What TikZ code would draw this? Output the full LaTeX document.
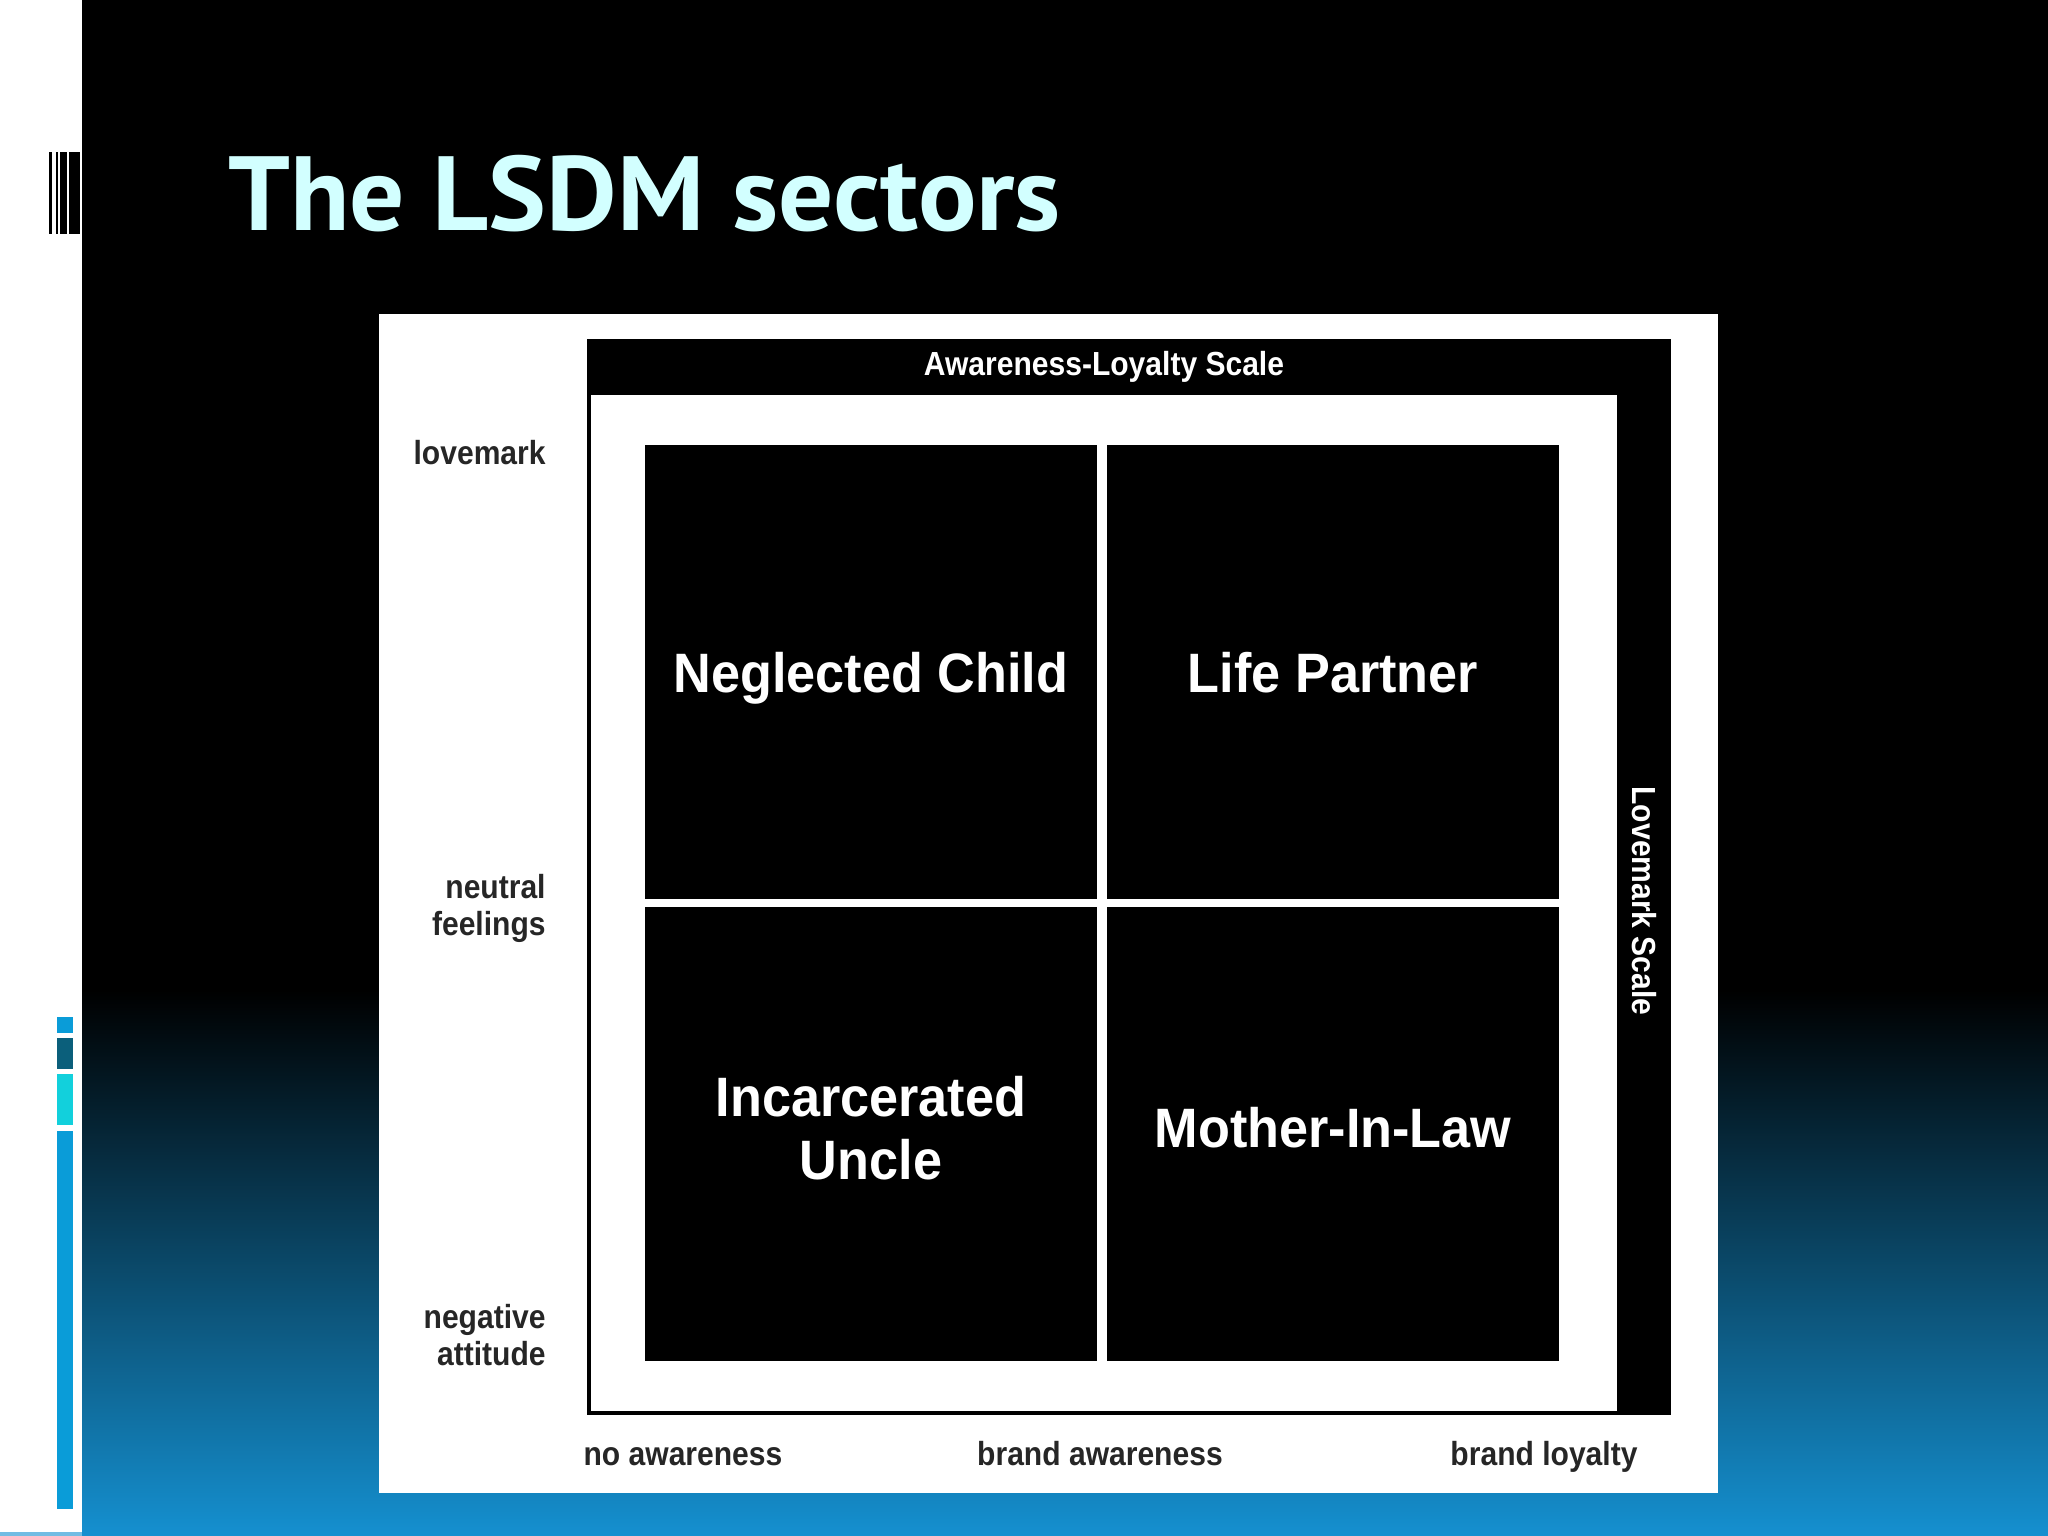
\documentclass[tikz,border=0pt]{standalone}
\usepackage{fontspec}
\setmainfont{Liberation Sans}[FakeStretch=0.9]
\newfontfamily\sectorfont{Liberation Sans}[FakeStretch=0.94]
\newfontfamily\titlefont{PT Sans}[FakeStretch=1.035]
\usetikzlibrary{positioning}
\definecolor{titlecyan}{HTML}{D2FFFF}
\definecolor{slideblue}{HTML}{1590D0}
\definecolor{barblue}{HTML}{0A9CD8}
\definecolor{barteal}{HTML}{0B5F7B}
\definecolor{barcyan}{HTML}{12D0DC}
\definecolor{labelgray}{HTML}{262626}
\begin{document}
\begin{tikzpicture}[x=1cm, y=-1cm, node distance=4.62cm, thick]
  \tikzstyle{sector} = [rectangle, fill=black, text=white, minimum width=4.52cm, minimum height=4.54cm, inner sep=0pt, align=center, font=\sectorfont\fontsize{15.8}{17.9}\selectfont\bfseries]
  \tikzstyle{axislabel} = [text=labelgray, inner sep=0pt, font=\fontsize{9.5}{10.5}\selectfont\bfseries]
  \tikzstyle{scalelabel} = [text=white, inner sep=0pt, font=\fontsize{9.5}{10.5}\selectfont\bfseries]

  \useasboundingbox (0,0) rectangle (20.48,15.36);
  % slide background and side strip
  \fill[black] (0,0) rectangle (20.48,15.36);
  \shade[top color=black, bottom color=slideblue] (0.82,9.9) rectangle (20.48,15.36);
  \fill[white] (0,0) rectangle (0.82,15.36);
  \fill[slideblue!60] (0,15.32) rectangle (0.82,15.36);
  \foreach \xa/\xb in {0.493/0.517, 0.557/0.583, 0.600/0.667, 0.693/0.800}
    \fill[black] (\xa,1.52) rectangle (\xb,2.34);
  \foreach \ya/\yb/\col in {10.17/10.33/barblue, 10.38/10.69/barteal, 10.74/11.25/barcyan, 11.31/15.09/barblue}
    \fill[\col] (0.57,\ya) rectangle (0.73,\yb);

  \node[anchor=base west, text=titlecyan, inner sep=0pt, font=\titlefont\bfseries\fontsize{30}{30}\selectfont] (title) at (2.27,2.31) {The LSDM sectors};

  % matrix panel
  \fill[white] (3.79,3.14) rectangle (17.18,14.93);
  \fill[black] (5.87,3.39) rectangle (16.71,14.15);
  \fill[white] (5.91,3.95) rectangle (16.17,14.11);

  \node [sector, text depth=0pt] (nc) at (8.71,6.72) {Neglected Child};
  \node [sector, text depth=0pt, right of=nc] (lp) {Life Partner};
  \node [sector, text depth=3.7pt, below of=nc] (iu) {Incarcerated\\Uncle};
  \node [sector, text depth=3.7pt, right of=iu] (mil) {Mother-In-Law};

  \node [scalelabel] (awscale) at (11.04,3.67) {Awareness-Loyalty Scale};
  \node [scalelabel, rotate=-90] (lmscale) at (16.44,9.01) {Lovemark Scale};

  \node [axislabel, anchor=east, align=right] (lovemark) at (5.47,4.53) {lovemark};
  \node [axislabel, anchor=east, align=right] (neutral) at (5.47,9.08) {neutral\\feelings};
  \node [axislabel, anchor=east, align=right] (negative) at (5.47,13.35) {negative\\attitude};
  \node [axislabel, anchor=base] (noaware) at (6.83,14.65) {no awareness};
  \node [axislabel, anchor=base] (brandaware) at (11.00,14.65) {brand awareness};
  \node [axislabel, anchor=base] (loyalty) at (15.44,14.65) {brand loyalty};
\end{tikzpicture}
\end{document}
